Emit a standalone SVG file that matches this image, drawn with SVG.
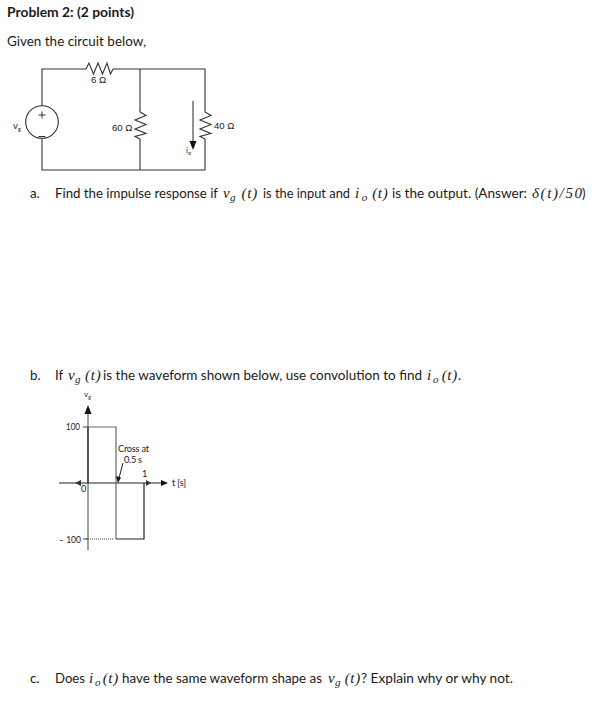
<svg xmlns="http://www.w3.org/2000/svg" width="614" height="724" viewBox="0 0 614 724">
<style>
text{font-family:Lato,"Open Sans","Liberation Sans",sans-serif;fill:#1a1a1a}
.t{font-size:13.300px}
.m{font-family:"Liberation Serif","DejaVu Serif",serif;font-style:italic;font-size:15px}
.s{font-size:11px}
.p{letter-spacing:.7px}
.l{font-family:"Liberation Sans",Arial,sans-serif;font-size:9.6px}
.c{font-size:9.2px}
.w{fill:none;stroke:#333;stroke-width:1.1}
.g{fill:none;stroke:#666;stroke-width:1.2}
.d{fill:none;stroke:#222;stroke-width:1.2}
</style>
<g id="heading">
<text x="7" y="17" class="t" font-weight="700" textLength="127" lengthAdjust="spacingAndGlyphs">Problem 2: (2 points)</text>
<text x="7" y="46" class="t" textLength="139" lengthAdjust="spacingAndGlyphs">Given the circuit below,</text>
</g>
<g id="connectors">
<path class="w" d="M42 106V69H86M113 69H205V112M205 139V170H42V138M140 69V112M140 139V170"/>
<path class="w" d="M86 69L89 63L93.500 74L98 63L102.500 74L107 63L110.500 74L113 69"/>
<path class="w" d="M140 112L146 115.500L135 120L146 124.500L135 129L146 133.500L135 136.500L140 139"/>
<path class="w" d="M205 112L211 115.500L200 120L211 124.500L200 129L211 133.500L200 136.500L205 139"/>
<path d="M193 101V145" stroke="#222" stroke-width="1" fill="none"/>
<path d="M189.500 141H196.500L193 150Z" fill="#111"/>
</g>
<g id="source">
<circle cx="42" cy="122" r="16.300" fill="none" stroke="#333" stroke-width="1.100"/>
<path d="M38.500 115.500H45.500M42 112V119M38.500 137H45.500" stroke="#333" stroke-width="1" fill="none" transform="translate(0 -0.500)"/>
<text x="13" y="129" font-size="9.600">v<tspan font-size="5.500" dy="1.500">g</tspan></text>
</g>
<g id="resistor-labels">
<text x="91" y="83" class="l">6 Ω</text>
<text x="112" y="131" class="l">60 Ω</text>
<text x="214" y="129" class="l">40 Ω</text>
<text x="186" y="153" font-size="8">i<tspan font-size="5.500" dy="1.500">o</tspan></text>
</g>
<g id="question-a">
<text x="30" y="198" class="t">a.</text>
<text x="55" y="198" class="t" textLength="163" lengthAdjust="spacingAndGlyphs">Find the impulse response if</text>
<text x="223" y="198" class="m">v<tspan class="s" dx=".4" dy="3">g</tspan><tspan class="p" dx="6" dy="-3">(t)</tspan></text>
<text x="263" y="198" class="t" textLength="87" lengthAdjust="spacingAndGlyphs">is the input and</text>
<text x="355" y="198" class="m">i<tspan class="s" dx="2.500" dy="3">o</tspan><tspan class="p" dx="5" dy="-3">(t)</tspan></text>
<text x="392" y="198" class="t" textLength="135" lengthAdjust="spacingAndGlyphs">is the output. (Answer:</text>
<text x="532" y="198" class="m" textLength="50">δ(t)/50</text>
<text x="582" y="198" class="t">)</text>
</g>
<g id="question-b">
<text x="30" y="380" class="t">b.</text>
<text x="55" y="380" class="t">If</text>
<text x="68" y="380" class="m">v<tspan class="s" dx=".4" dy="3">g</tspan><tspan class="p" dx="4.500" dy="-3">(t)</tspan></text>
<text x="103" y="380" class="t" textLength="319" lengthAdjust="spacingAndGlyphs">is the waveform shown below, use convolution to find</text>
<text x="427" y="380" class="m">i<tspan class="s" dx="1.800" dy="3">o</tspan><tspan class="p" dx="3.200" dy="-3">(t).</tspan></text>
</g>
<g id="waveform">
<path class="g" d="M88 550V412"/>
<path d="M84.500 414L88 405L91.500 414Z" fill="#111"/>
<path class="d" d="M59 483H162"/>
<path d="M161 480L168 483L161 486Z" fill="#111"/>
<path d="M75 483L81 480V486Z" fill="#333"/>
<path d="M146 480L151 483L146 486Z" fill="#333"/>
<path class="g" d="M88 427H116V539"/>
<path class="d" d="M116 539H144V483M88 483V427"/>
<path d="M86 539H114" stroke="#444" stroke-width="1" stroke-dasharray="1 1" fill="none"/>
<path d="M83 427H88M83 539H88" stroke="#444" stroke-width="1"/>
<path d="M123 463L119 478" stroke="#222" stroke-width="1" fill="none"/>
<path d="M116 476L121 477.500L118 483Z" fill="#111"/>
<text x="84" y="397" font-size="8">v<tspan font-size="5" dy="1.500">g</tspan></text>
<text x="66" y="430" class="c" textLength="14" lengthAdjust="spacingAndGlyphs">100</text>
<text x="59" y="543" class="c" textLength="22" lengthAdjust="spacingAndGlyphs">– 100</text>
<text x="81" y="492" class="c">0</text>
<text x="118" y="452" class="c" textLength="31">Cross at</text>
<text x="124" y="463" class="c" textLength="18">0.5 s</text>
<text x="142" y="477" class="c">1</text>
<text x="172" y="486" class="c" textLength="14">t [s]</text>
</g>
<g id="question-c">
<text x="30" y="683" class="t">c.</text>
<text x="55" y="683" class="t" textLength="30" lengthAdjust="spacingAndGlyphs">Does</text>
<text x="89" y="683" class="m">i<tspan class="s" dx="1.800" dy="3">o</tspan><tspan class="p" dx="2.200" dy="-3">(t)</tspan></text>
<text x="122" y="683" class="t" textLength="200" lengthAdjust="spacingAndGlyphs">have the same waveform shape as</text>
<text x="328" y="683" class="m">v<tspan class="s" dx=".4" dy="3">g</tspan><tspan class="p" dx="4.100" dy="-3">(t)</tspan></text>
<text x="361" y="683" class="t" textLength="152" lengthAdjust="spacingAndGlyphs">? Explain why or why not.</text>
</g>
</svg>
